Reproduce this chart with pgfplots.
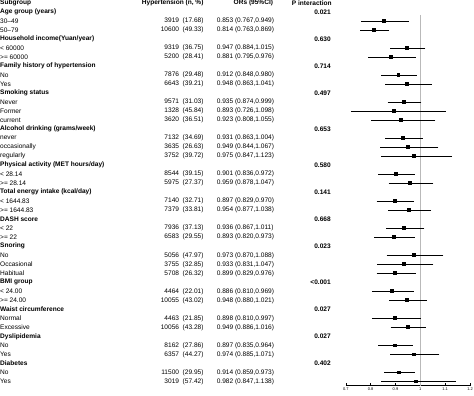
\documentclass[border=0pt]{standalone}
\usepackage{pgfplots}
\usepackage{pgfplotstable}
\usepackage{fontspec}
\setmainfont{Liberation Sans}
\pgfplotsset{compat=1.18}

\pgfplotstableread{
y   or    lo    hi
-2  0.853 0.767 0.949
-3  0.814 0.763 0.869
-5  0.947 0.884 1.015
-6  0.881 0.795 0.976
-8  0.912 0.848 0.980
-9  0.948 0.863 1.041
-11 0.935 0.874 0.999
-12 0.893 0.726 1.098
-13 0.923 0.808 1.055
-15 0.931 0.863 1.004
-16 0.949 0.844 1.067
-17 0.975 0.847 1.123
-19 0.901 0.836 0.972
-20 0.959 0.878 1.047
-22 0.897 0.829 0.970
-23 0.954 0.877 1.038
-25 0.936 0.867 1.011
-26 0.893 0.820 0.973
-28 0.973 0.870 1.088
-29 0.933 0.831 1.047
-30 0.899 0.829 0.976
-32 0.886 0.810 0.969
-33 0.948 0.880 1.021
-35 0.898 0.810 0.997
-36 0.949 0.886 1.016
-38 0.897 0.835 0.964
-39 0.974 0.885 1.071
-41 0.914 0.859 0.973
-42 0.982 0.847 1.138
}\ortable

\newcommand{\fs}{\fontsize{6.6}{7.8}\selectfont}
\newcommand{\hdr}{%
  \node[anchor=west,inner sep=0,font=\fs\bfseries] at (axis cs:-0.692,0) {Subgroup};
  \node[anchor=east,inner sep=0,font=\fs\bfseries] at (axis cs:0.128,0) {Hypertension (n, \%)};
  \node[anchor=east,inner sep=0,font=\fs\bfseries] at (axis cs:0.408,0) {ORs (95\%CI)};
  \node[anchor=east,inner sep=0,font=\fs\bfseries] at (axis cs:0.644,0) {P interaction};
}
\newcommand{\grp}[3]{%
  \node[anchor=west,inner sep=0,font=\fs\bfseries] at (axis cs:-0.692,#1) {#2};
  \node[anchor=east,inner sep=0,font=\fs\bfseries] at (axis cs:0.64,#1) {#3};
}
\newcommand{\sub}[4]{%
  \node[anchor=west,inner sep=0,font=\fs] at (axis cs:-0.692,#1) {#2};
  \node[anchor=east,inner sep=0,font=\fs] at (axis cs:0.128,#1) {#3};
  \node[anchor=west,inner sep=0,font=\fs] at (axis cs:0.18,#1) {#4};
}

\begin{document}
\begin{tikzpicture}
\begin{axis}[
  scale only axis,
  width=125pt, height=388pt,
  xmin=0.7, xmax=1.2,
  ymin=-42.45, ymax=0.33,
  clip=false,
  axis x line*=bottom,
  axis y line=none,
  axis line style={-, black, line width=0.6pt},
  xtick={0.7,0.8,0.9,1,1.1,1.2},
  xticklabels={0.7,0.8,0.9,1,1.1,1.2},
  tick align=inside,
  major tick length=2.5pt,
  tick style={black, line width=0.6pt},
  xticklabel style={font=\fontsize{4}{4}\selectfont, yshift=1pt},
  /pgf/number format/assume math mode=true,
]
\addplot[gray!55, line width=0.6pt] coordinates {(1,-1.32) (1,-42.45)};
\addplot[only marks, mark=square*, mark size=1.45pt, black,
  mark options={line width=0pt},
  error bars/.cd, x dir=both, x explicit,
  error bar style={line width=0.6pt, black},
  error mark options={black, mark size=1.3pt, line width=0.6pt}]
  table[x=or, y=y,
    x error plus expr=\thisrow{hi}-\thisrow{or},
    x error minus expr=\thisrow{or}-\thisrow{lo}] {\ortable};

\hdr
\grp{-1}{Age group (years)}{0.021}
\sub{-2}{30--49}{3919 \ (17.68)}{0.853 (0.767,0.949)}
\sub{-3}{50--79}{10600 \ (49.33)}{0.814 (0.763,0.869)}
\grp{-4}{Household income(Yuan/year)}{0.630}
\sub{-5}{< 60000}{9319 \ (36.75)}{0.947 (0.884,1.015)}
\sub{-6}{>= 60000}{5200 \ (28.41)}{0.881 (0.795,0.976)}
\grp{-7}{Family history of hypertension}{0.714}
\sub{-8}{No}{7876 \ (29.48)}{0.912 (0.848,0.980)}
\sub{-9}{Yes}{6643 \ (39.21)}{0.948 (0.863,1.041)}
\grp{-10}{Smoking status}{0.497}
\sub{-11}{Never}{9571 \ (31.03)}{0.935 (0.874,0.999)}
\sub{-12}{Former}{1328 \ (45.84)}{0.893 (0.726,1.098)}
\sub{-13}{current}{3620 \ (36.51)}{0.923 (0.808,1.055)}
\grp{-14}{Alcohol drinking (grams/week)}{0.653}
\sub{-15}{never}{7132 \ (34.69)}{0.931 (0.863,1.004)}
\sub{-16}{occasionally}{3635 \ (26.63)}{0.949 (0.844,1.067)}
\sub{-17}{regularly}{3752 \ (39.72)}{0.975 (0.847,1.123)}
\grp{-18}{Physical activity (MET hours/day)}{0.580}
\sub{-19}{< 28.14}{8544 \ (39.15)}{0.901 (0.836,0.972)}
\sub{-20}{>= 28.14}{5975 \ (27.37)}{0.959 (0.878,1.047)}
\grp{-21}{Total energy intake (kcal/day)}{0.141}
\sub{-22}{< 1644.83}{7140 \ (32.71)}{0.897 (0.829,0.970)}
\sub{-23}{>= 1644.83}{7379 \ (33.81)}{0.954 (0.877,1.038)}
\grp{-24}{DASH score}{0.668}
\sub{-25}{< 22}{7936 \ (37.13)}{0.936 (0.867,1.011)}
\sub{-26}{>= 22}{6583 \ (29.55)}{0.893 (0.820,0.973)}
\grp{-27}{Snoring}{0.023}
\sub{-28}{No}{5056 \ (47.97)}{0.973 (0.870,1.088)}
\sub{-29}{Occasional}{3755 \ (32.85)}{0.933 (0.831,1.047)}
\sub{-30}{Habitual}{5708 \ (26.32)}{0.899 (0.829,0.976)}
\grp{-31}{BMI group}{<0.001}
\sub{-32}{< 24.00}{4464 \ (22.01)}{0.886 (0.810,0.969)}
\sub{-33}{>= 24.00}{10055 \ (43.02)}{0.948 (0.880,1.021)}
\grp{-34}{Waist circumference}{0.027}
\sub{-35}{Normal}{4463 \ (21.85)}{0.898 (0.810,0.997)}
\sub{-36}{Excessive}{10056 \ (43.28)}{0.949 (0.886,1.016)}
\grp{-37}{Dyslipidemia}{0.027}
\sub{-38}{No}{8162 \ (27.86)}{0.897 (0.835,0.964)}
\sub{-39}{Yes}{6357 \ (44.27)}{0.974 (0.885,1.071)}
\grp{-40}{Diabetes}{0.402}
\sub{-41}{No}{11500 \ (29.95)}{0.914 (0.859,0.973)}
\sub{-42}{Yes}{3019 \ (57.42)}{0.982 (0.847,1.138)}
\end{axis}
\pgfresetboundingbox
\path ([xshift=-348pt]current axis.north west) rectangle ([xshift=4pt,yshift=-10pt]current axis.south east);
\end{tikzpicture}
\end{document}
